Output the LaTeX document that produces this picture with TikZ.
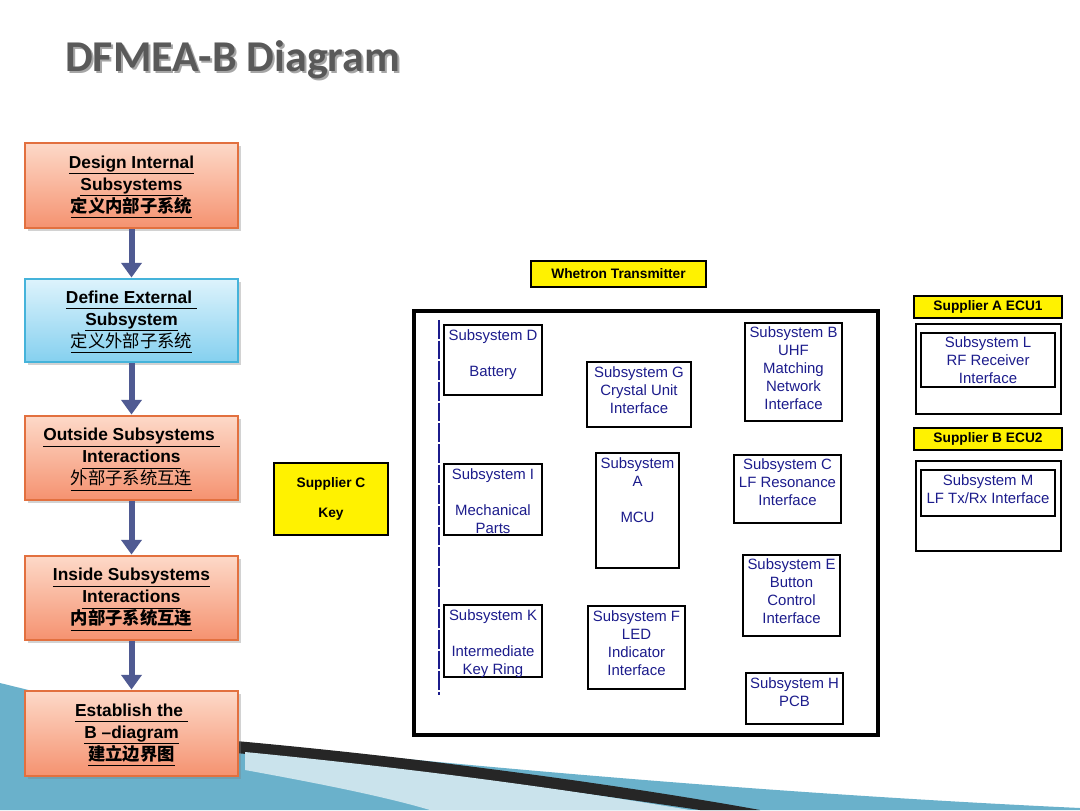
\documentclass[tikz,border=0pt]{standalone}
\usepackage{fontspec}
\setmainfont{Liberation Sans}
\newfontfamily\cjk{Noto Sans CJK SC}
\newfontfamily\titlefont{Carlito}
\usetikzlibrary{fit,arrows.meta,shadows}
\definecolor{navy}{HTML}{1C1C8C}
\definecolor{ored}{HTML}{E2703F}
\definecolor{otop}{HTML}{FDD9C8}
\definecolor{obot}{HTML}{F59270}
\definecolor{bbord}{HTML}{45B3DA}
\definecolor{btop}{HTML}{DDF3FC}
\definecolor{bbot}{HTML}{85D0EF}
\definecolor{arr}{HTML}{4F5A92}
\definecolor{teal}{HTML}{2A8FB5}
\newcommand{\ul}[1]{\underline{\vphantom{Ãgy}#1}}
\tikzset{
  sbox/.style={draw=black, line width=1pt, inner sep=0pt},
  stxt/.style={text=navy, align=center, font=\fontsize{11.2}{13.5}\selectfont, inner sep=0pt},
  ybox/.style={draw=black, line width=1pt, fill=yellow, inner sep=0pt},
  ytxt/.style={font=\bfseries\fontsize{10.3}{13.5}\selectfont, align=center, inner sep=0pt},
  obox/.style={draw=ored, line width=2.2pt, top color=otop, bottom color=obot, inner sep=0pt, drop shadow={opacity=0.35, shadow xshift=2pt, shadow yshift=-2pt}},
  bbox/.style={draw=bbord, line width=2.2pt, top color=btop, bottom color=bbot, inner sep=0pt, drop shadow={opacity=0.35, shadow xshift=2pt, shadow yshift=-2pt}},
  ltxt/.style={font=\bfseries\fontsize{13}{16.5}\selectfont, align=center},
  flow/.style={arr, line width=4.5pt, -{Triangle[width=15pt,length=11pt]}}
}
\begin{document}
\begin{tikzpicture}[x=0.75pt,y=-0.75pt]
\useasboundingbox (0,0) rectangle (1080,810);
\fill[white] (0,0) rectangle (1080,810);
% decoration bottom
\fill[teal!70!white] (0,683) -- (240,742) .. controls (500,770) and (800,795) .. (1080,808) -- (1080,810) -- (0,810) -- cycle;
\fill[black!85] (225,740) .. controls (450,760) and (650,790) .. (760,810) -- (700,810) .. controls (600,795) and (420,770) .. (225,752) -- cycle;
\fill[teal!25] (245,752) .. controls (450,772) and (600,795) .. (690,810) -- (430,810) .. controls (380,795) and (300,780) .. (245,770) -- cycle;
% title
\node[anchor=west, font=\titlefont\bfseries\fontsize{33}{38}\selectfont, text=black!35, inner sep=0] at (67,62) {DFMEA-B Diagram};
\node[anchor=west, font=\titlefont\bfseries\fontsize{33}{38}\selectfont, text=black!65, inner sep=0] (title) at (65,60) {DFMEA-B Diagram};
% left flow
\node[obox, fit={(25,143)(238,228)}] (s1) {};
\node[ltxt] at (s1) {\ul{Design Internal}\\\ul{Subsystems}\\\ul{\cjk 定义内部子系统}};
\node[bbox, fit={(25,279)(238,362)}] (s2) {};
\node[ltxt] at (s2) {\ul{Define External\ }\\\ul{Subsystem}\\\ul{\cjk\mdseries 定义外部子系统}};
\node[obox, fit={(25,416)(238,500)}] (s3) {};
\node[ltxt] at (s3) {\ul{Outside Subsystems\ }\\\ul{Interactions}\\\ul{\cjk\mdseries 外部子系统互连}};
\node[obox, fit={(25,556)(238,640)}] (s4) {};
\node[ltxt] at (s4) {\ul{Inside Subsystems}\\\ul{Interactions}\\\ul{\cjk 内部子系统互连}};
\node[obox, fit={(25,691)(238,776)}] (s5) {};
\node[ltxt] at (s5) {\ul{Establish the\ }\\\ul{B --diagram}\\\ul{\cjk 建立边界图}};
\draw[flow] (s1.south) -- (s2.north);
\draw[flow] (s2.south) -- (s3.north);
\draw[flow] (s3.south) -- (s4.north);
\draw[flow] (s4.south) -- (s5.north);
% supplier C
\node[ybox, fit={(274,463)(388,535)}] (sc) {};
\node[ytxt] at (sc) {Supplier C\\[9pt]Key};
% Whetron
\node[ybox, fit={(531,261)(706,287)}] (wt) {};
\node[ytxt] at (wt) {Whetron Transmitter};
% frame
\node[draw=black, line width=2.6pt, inner sep=0, fit={(414,311)(878,735)}] (frame) {};
\draw[navy, line width=1.3pt, dash pattern=on 14pt off 1.5pt] (439,320) coordinate (dl1) -- (439,695) coordinate (dl2);
% subsystems
\node[sbox, fit={(444,325)(542,395)}] (d) {};
\node[stxt, anchor=north] at ([yshift=-4pt]d.north) {Subsystem D\\[13.5pt]Battery};
\node[sbox, fit={(587,362)(691,427)}] (g) {};
\node[stxt, anchor=north] at ([yshift=-4pt]g.north) {Subsystem G\\Crystal Unit\\Interface};
\node[sbox, fit={(745,323)(842,421)}] (b) {};
\node[stxt, anchor=north] at ([yshift=-3pt]b.north) {Subsystem B\\UHF\\Matching\\Network\\Interface};
\node[sbox, fit={(444,464)(542,535)}] (i) {};
\node[stxt, anchor=north] at ([yshift=-4pt]i.north) {Subsystem I\\[13.5pt]Mechanical\\Parts};
\node[sbox, fit={(596,453)(679,568)}] (a) {};
\node[stxt, anchor=north] at ([yshift=-4pt]a.north) {Subsystem\\A\\[13.5pt]MCU};
\node[sbox, fit={(734,455)(841,523)}] (c) {};
\node[stxt, anchor=north] at ([yshift=-3pt]c.north) {Subsystem C\\LF Resonance\\Interface};
\node[sbox, fit={(743,555)(840,636)}] (e) {};
\node[stxt, anchor=north] at ([yshift=-3pt]e.north) {Subsystem E\\Button\\Control\\Interface};
\node[sbox, fit={(444,605)(542,677)}] (k) {};
\node[stxt, anchor=north] at ([yshift=-4pt]k.north) {Subsystem K\\[13.5pt]Intermediate\\Key Ring};
\node[sbox, fit={(588,606)(685,689)}] (f) {};
\node[stxt, anchor=north] at ([yshift=-4pt]f.north) {Subsystem F\\LED\\Indicator\\Interface};
\node[sbox, fit={(746,673)(843,724)}] (h) {};
\node[stxt, anchor=north] at ([yshift=-4pt]h.north) {Subsystem H\\PCB};
% suppliers A, B
\node[ybox, fit={(914,296)(1062,318)}] (sa) {};
\node[ytxt] at (sa) {Supplier A ECU1};
\node[sbox, fit={(916,324)(1061,414)}] (sao) {};
\node[sbox, fit={(921,333)(1055,387)}] (l) {};
\node[stxt, anchor=north] at ([yshift=-3pt]l.north) {Subsystem L\\RF Receiver\\Interface};
\node[ybox, fit={(914,428)(1062,450)}] (sb) {};
\node[ytxt] at (sb) {Supplier B ECU2};
\node[sbox, fit={(916,461)(1061,551)}] (sbo) {};
\node[sbox, fit={(921,470)(1055,516)}] (m) {};
\node[stxt, anchor=north] at ([yshift=-4pt]m.north) {Subsystem M\\LF Tx/Rx Interface};
\end{tikzpicture}
\end{document}
